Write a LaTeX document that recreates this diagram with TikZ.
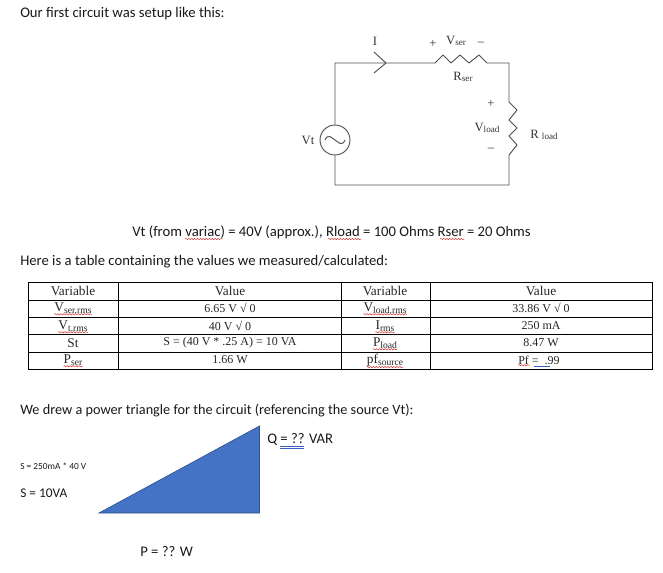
\documentclass[tikz,border=0pt]{standalone}
\usepackage{fontspec}
\setmainfont{Liberation Serif}
\newfontfamily\bodyfont{Carlito}
\usetikzlibrary{decorations.pathmorphing}
\newcommand{\sbs}[1]{\raisebox{-0.3ex}{\scalebox{0.72}{#1}}}
\definecolor{triblue}{HTML}{4472C4}
\definecolor{triedge}{HTML}{2F528F}
\definecolor{squigred}{HTML}{D03030}
\definecolor{gramblue}{HTML}{3A5FC0}
\definecolor{wiregray}{HTML}{505050}
\tikzset{
	body/.style={anchor=west,inner sep=0pt,font=\bodyfont\fontsize{11}{13}\selectfont,text=black!90},
	narrowbody/.style={body,font=\bodyfont\fontsize{10.7}{13}\selectfont},
	shortbody/.style={body,font=\bodyfont\fontsize{10}{12}\selectfont},
	small/.style={body,font=\bodyfont\fontsize{7}{8}\selectfont},
	wire/.style={draw=wiregray,line width=0.7pt,line join=round},
	clabel/.style={inner sep=0pt,text=black!80,font=\fontsize{9.5}{11}\selectfont},
	cell/.style={inner sep=0pt,font=\fontsize{9}{10}\selectfont,text=black!85},
	headcell/.style={cell,font=\fontsize{10}{11}\selectfont},
	subcell/.style={cell,font=\fontsize{10}{11}\selectfont},
	squiggle/.style={draw=squigred,line width=0.35pt,decorate,decoration={snake,amplitude=0.5pt,segment length=2.2pt}},
	gramline/.style={draw=gramblue,line width=0.4pt}
}
\begin{document}
\begin{tikzpicture}[x=0.75pt,y=-0.75pt]
	\useasboundingbox (0,0) rectangle (663,572);
	\node[body] (intro) at (20,14) {Our first circuit was setup like this:};

	% circuit
	\node[circle,wire,minimum size=22.5pt,inner sep=0pt] (vsrc) at (335,140) {};
	\coordinate (tl) at (335,63);
	\coordinate (tr) at (509,63);
	\coordinate (bl) at (335,185);
	\coordinate (br) at (509,185);
	\coordinate (rsera) at (435,63);
	\coordinate (rserb) at (487,63);
	\coordinate (rloada) at (509,102);
	\coordinate (rloadb) at (509,155);
	\coordinate (itip) at (386,63);
	\coordinate (iup) at (374,52);
	\coordinate (idown) at (374,73);
	\draw[wire] (vsrc) -- (tl) -- (rsera)
		-- ++(8,-8) -- ++(8,8) -- ++(9,-8) -- ++(9,8) -- ++(10,-8) -- (rserb)
		-- (tr) -- (rloada)
		-- ++(8,8) -- ++(-8,10) -- ++(8,8) -- ++(-8,8) -- ++(8,9) -- (rloadb)
		-- (br) -- (bl) -- (vsrc);
	\draw[wire] (iup) -- (itip) -- (idown);
	\draw[wire] ([xshift=-7.5pt]vsrc.center) .. controls ++(3,-7) and ++(-3,-2) .. (vsrc.center)
		.. controls ++(3,2) and ++(-3,7) .. ([xshift=7.5pt]vsrc.center);

	\node[clabel] (ilabel) at (375,41) {I};
	\node[clabel] (vserplus) at (433,44) {+};
	\node[clabel] (vserlabel) at (456,41) {V\sbs{ser}};
	\node[clabel] (vserminus) at (481,44) {--};
	\node[clabel] (rserlabel) at (463,77) {R\sbs{ser}};
	\node[clabel] (vloadplus) at (491,104) {+};
	\node[clabel] (vloadlabel) at (487,128) {V\sbs{load}};
	\node[clabel] (vloadminus) at (491,150) {--};
	\node[clabel] (rloadlabel) at (544,135) {R \sbs{load}};
	\node[clabel] (vtlabel) at (308,140) {Vt};

	\node[body] (values) at (132,232) {Vt (from variac) = 40V (approx.), Rload = 100 Ohms Rser = 20 Ohms};
	\node[body] (tablehead) at (20,262) {Here is a table containing the values we measured/calculated:};

	% table
	\draw[line width=0.6pt] (28,282) rectangle (652,369);
	\foreach \rowy in {300,317,334,352}
		\draw[line width=0.6pt] (28,\rowy) -- (652,\rowy);
	\foreach \colx in {118,341,430}
		\draw[line width=0.6pt] (\colx,282) -- (\colx,369);
	\foreach \n/\x/\t in {aa/73/Variable, ab/230/Value, ac/385/Variable, ad/541/Value}
		\node[headcell] (\n) at (\x,291) {\t};
	\foreach \n/\x/\y/\t in {
			bb/230/308/6.65 V √ 0, bd/541/308/33.86 V √ 0,
			cb/230/326/40 V √ 0, cd/541/326/250 mA,
			db/230/343/{S = (40 V * .25 A) = 10 VA}, dd/541/343/8.47 W,
			eb/230/360/1.66 W}
		\node[cell] (\n) at (\x,\y) {\t};
	\foreach \n/\x/\y/\t in {
			ba/73/308/V\sbs{ser.rms}, bc/385/308/V\sbs{load.rms},
			ca/73/326/V\sbs{t.rms}, cc/385/326/I\sbs{rms},
			da/73/343/St, dc/385/343/P\sbs{load},
			ea/73/360/P\sbs{ser}, ec/385/360/pf\sbs{source}}
		\node[subcell] (\n) at (\x,\y) {\t};
	\node[cell,anchor=west] (pf) at (518,360) {Pf = \phantom{.}.99};

	\foreach \n in {ba,bc,ca,cc,dc,ea,ec}
		\draw[squiggle] ([yshift=-0.5pt]\n.south west) -- ([yshift=-0.5pt]\n.south east);
	\draw[squiggle] ([yshift=-0.5pt]pf.south west) -- ++(12,0);
	\draw[gramline] ([xshift=12pt,yshift=-1.2pt]pf.south west) -- ++(16,0);

	% squiggles in the values line
	\coordinate (sqa) at (185,239);
	\coordinate (sqb) at (223,239);
	\coordinate (sqc) at (328,239);
	\coordinate (sqd) at (362,239);
	\coordinate (sqe) at (440,239);
	\coordinate (sqf) at (465,239);
	\draw[squiggle] (sqa) -- (sqb);
	\draw[squiggle] (sqc) -- (sqd);
	\draw[squiggle] (sqe) -- (sqf);

	% power triangle
	\node[narrowbody] (trihead) at (20,410) {We drew a power triangle for the circuit (referencing the source Vt):};
	\coordinate (tria) at (99,513);
	\coordinate (trib) at (259.5,426);
	\coordinate (tric) at (259.5,513);
	\draw[fill=triblue,draw=triedge,line width=0.5pt] (tria) -- (trib) -- (tric) -- cycle;
	\node[body] (qlabel) at (267,439) {Q = ?? VAR};
	\coordinate (qlinea) at (280,446.5);
	\coordinate (qlineb) at (304,446.5);
	\draw[gramline] (qlinea) -- (qlineb);
	\draw[gramline] ([yshift=-1.5pt]qlinea) -- ([yshift=-1.5pt]qlineb);
	\node[small] (sprod) at (20,466) {S = 250mA * 40 V};
	\node[shortbody] (slabel) at (20,493) {S = 10VA};
	\node[body] (plabel) at (140,552) {P = ?? W};
\end{tikzpicture}
\end{document}
